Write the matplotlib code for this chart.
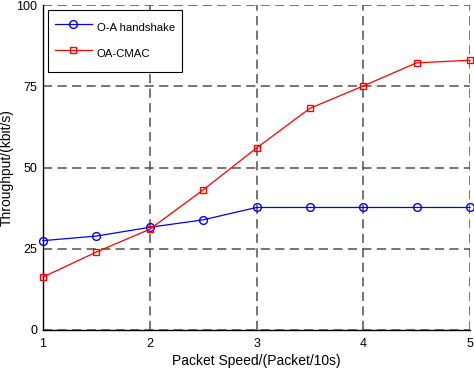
import matplotlib
matplotlib.use("Agg")
import matplotlib.pyplot as plt

plt.rcParams['font.family'] = ['Liberation Sans', 'DejaVu Sans']

x = [1, 1.5, 2, 2.5, 3, 3.5, 4, 4.5, 5]
oa_handshake = [27.5, 28.9, 31.6, 33.9, 37.7, 37.7, 37.7, 37.7, 37.7]
oa_cmac = [16.3, 24.0, 31.0, 43.1, 56.0, 68.2, 75.1, 82.2, 83.0]
xticks = [1, 2, 3, 4, 5]
yticks = [0, 25, 50, 75, 100]

fig = plt.figure(figsize=(4.74, 3.70), dpi=100)
ax = fig.add_axes([43/474, 1-330/370, (470-43)/474, (330-5)/370])

ax.plot(x, oa_handshake, color='#0000ff', lw=0.9, marker='o', ms=5.6, mfc='none', mec='#0000ff', mew=1.0, label='O-A handshake', zorder=3, clip_on=False)
ax.plot(x, oa_cmac, color='#ff0000', lw=0.9, marker='s', ms=4.6, mfc='none', mec='#ff0000', mew=1.0, label='OA-CMAC', zorder=3, clip_on=False)

ax.set_xlim(1, 5)
ax.set_ylim(0, 100)
ax.set_xticks(xticks)
ax.set_yticks(yticks)
ax.grid(True, color='#505050', linestyle=(0, (6, 3.5)), lw=1.1)
for s in ['top', 'right']:
    ax.spines[s].set_visible(False)
for s in ['left', 'bottom']:
    ax.spines[s].set_color('black')
    ax.spines[s].set_linewidth(1.0)
ax.tick_params(labelsize=9, length=0)
ax.tick_params(axis='x', pad=6)
ax.tick_params(axis='y', pad=4)
ax.set_xlabel('Packet Speed/(Packet/10s)', fontsize=10)
ax.set_ylabel('Throughput/(kbit/s)', fontsize=10)
ax.xaxis.set_label_coords(0.5, -0.075)
ax.yaxis.set_label_coords(-0.068, 0.5)

leg = ax.legend(loc='upper left', fontsize=8.2, fancybox=False, edgecolor='black', framealpha=1,
                borderpad=0.6, labelspacing=0.4, handlelength=3.25, handleheight=2.55,
                handletextpad=0.45, borderaxespad=0, bbox_to_anchor=(5/427, 1-5/325))
leg.get_frame().set_linewidth(0.8)

fig.savefig('out.png', dpi=100)
